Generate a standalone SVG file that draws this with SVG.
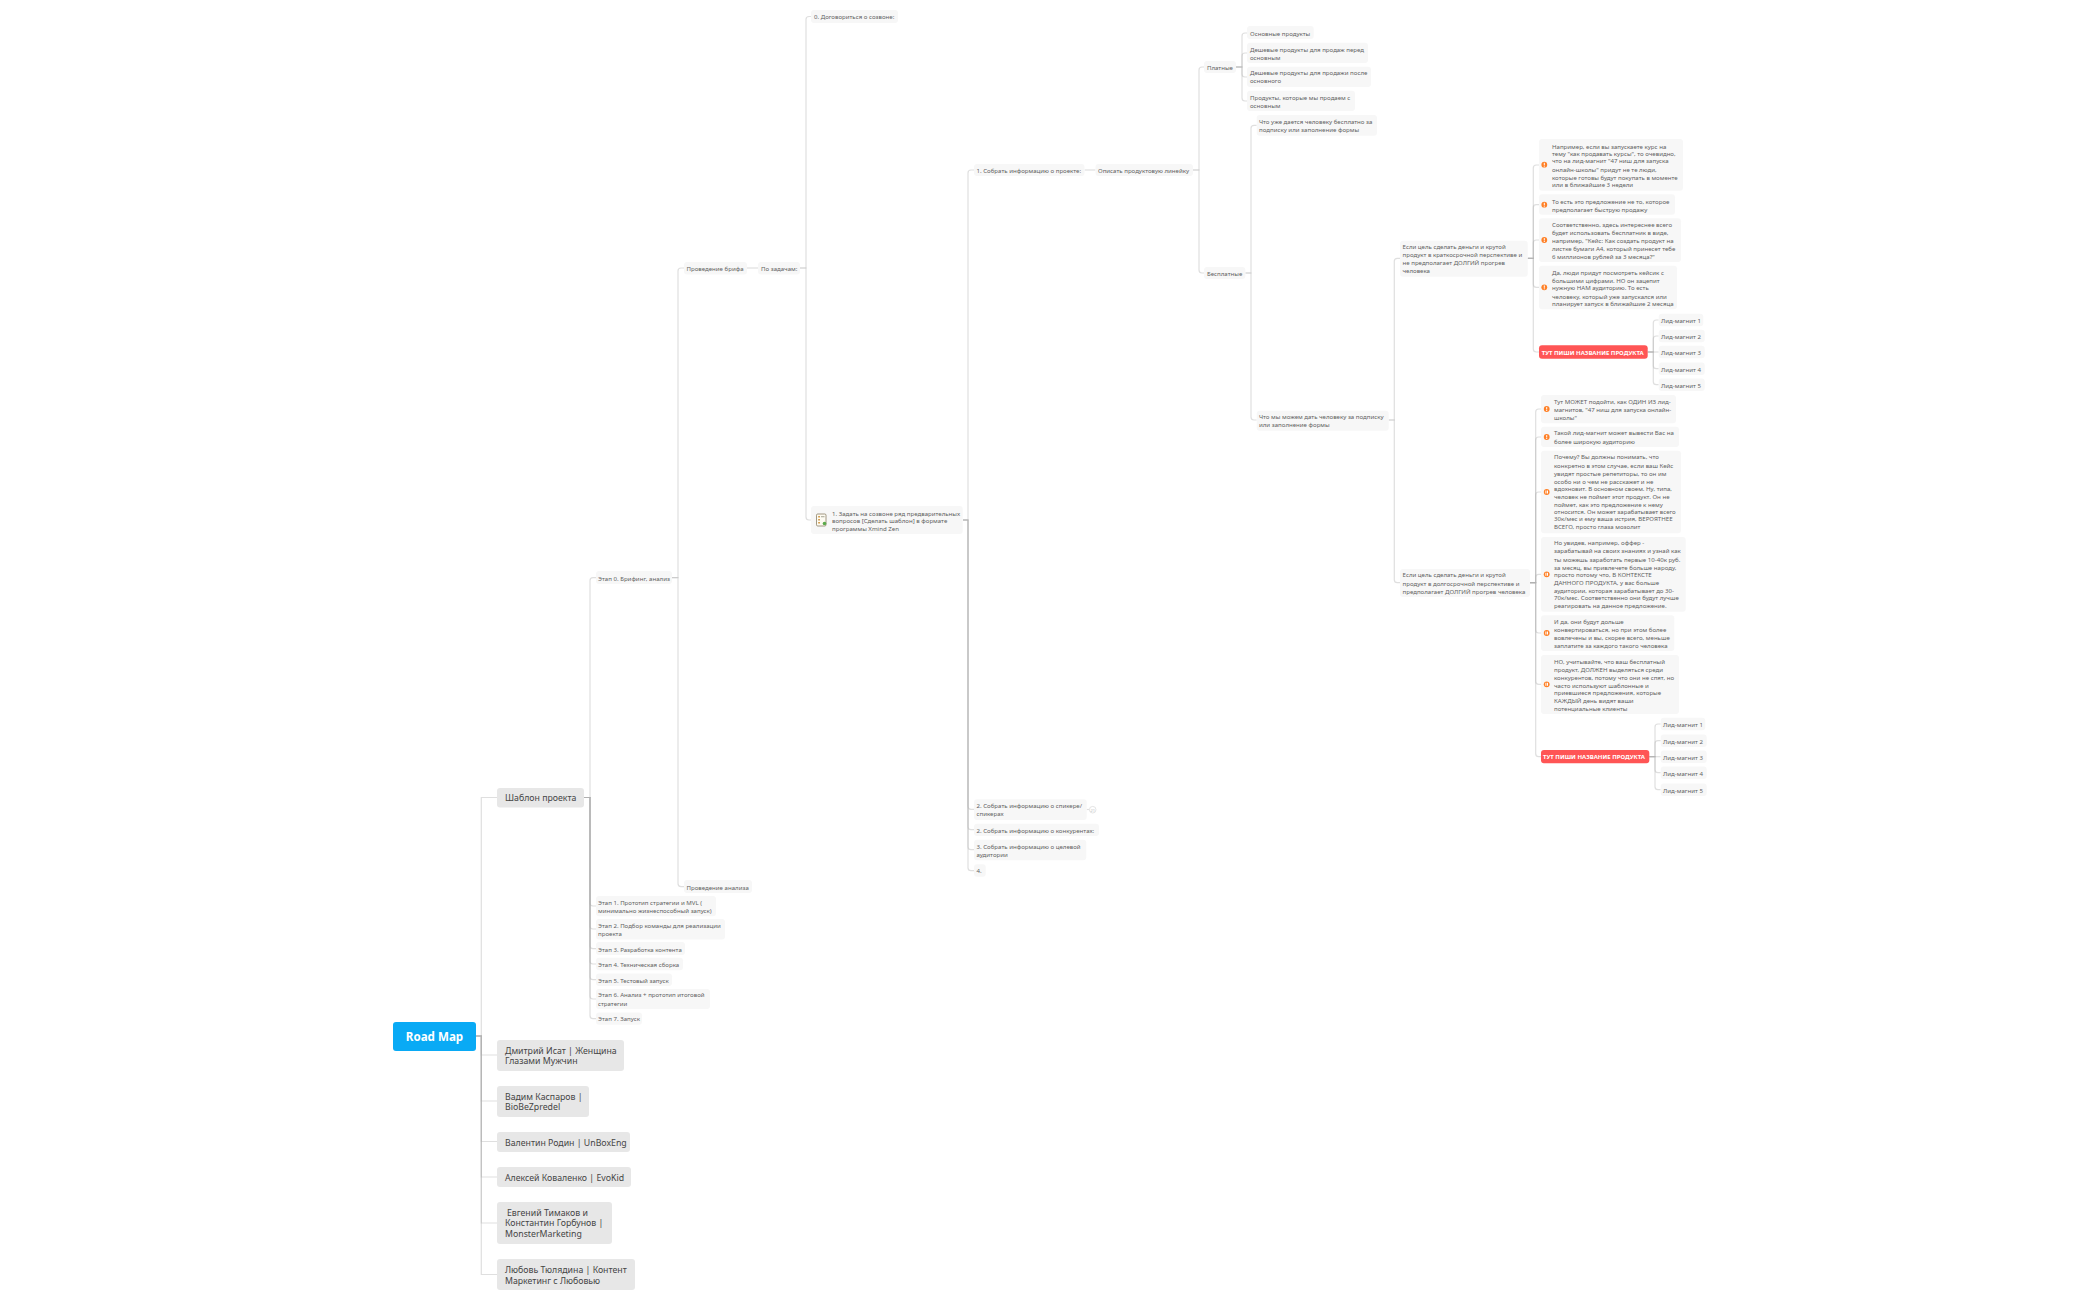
<svg xmlns="http://www.w3.org/2000/svg" width="2100" height="1300" viewBox="0 0 2100 1300">
<style>
text{font-family:"Noto Sans","Liberation Sans",sans-serif;transform:translateY(.6px)}
rect.b{fill:#f7f7f7}
rect.m{fill:#e7e7e7}
rect.red{fill:#ff5555}
.s{font-size:6.1px;fill:#5f5f5f}
.l{font-size:8.75px;fill:#454545}
.w{font-size:6px;fill:#fff;font-weight:700}
.root{font-size:11.6px;fill:#fff;font-weight:700;text-anchor:middle}
#connectors path{fill:none;stroke:#b0b0b0;stroke-opacity:.4;stroke-width:1.2}
</style>
<defs>
<g id="i1"><circle r="2.9" fill="#ff8027"/><rect x="-.5" y="-1.9" width="1" height="2.4" fill="#fff"/><rect x="-.5" y="1" width="1" height="1" fill="#fff"/></g>
<g id="i2"><circle r="2.9" fill="#ff8027"/><rect x="-1.3" y="-1.5" width="1" height="3" fill="#fff"/><rect x=".3" y="-1.5" width="1" height="3" fill="#fff"/></g>
</defs>
<rect width="2100" height="1300" fill="#fff"/>
<g id="connectors">
<path d="M476 1036H481.3V797.5H497"/><path d="M476 1036H481.3V1055H497"/><path d="M476 1036H481.3V1101H497"/><path d="M476 1036H481.3V1141.5H497"/><path d="M476 1036H481.3V1177H497"/><path d="M476 1036H481.3V1223H497"/><path d="M476 1036H481.3V1274.5H497"/>
<path d="M584 797.5H590V580.7Q590 577.7 593 577.7H596"/><path d="M584 797.5H590V903Q590 906 593 906H596"/><path d="M584 797.5H590V926Q590 929 593 929H596"/><path d="M584 797.5H590V945.7Q590 948.7 593 948.7H596"/><path d="M584 797.5H590V961Q590 964 593 964H596"/><path d="M584 797.5H590V976.7Q590 979.7 593 979.7H596"/><path d="M584 797.5H590V996Q590 999 593 999H596"/><path d="M584 797.5H590V1015.6Q590 1018.6 593 1018.6H596"/>
<path d="M672 577.7H678V271Q678 268 681 268H684"/><path d="M672 577.7H678V883.6Q678 886.6 681 886.6H684"/>
<path d="M747 268H758"/>
<path d="M800 268H806V19.5Q806 16.5 809 16.5H811"/><path d="M800 268H806V517Q806 520 809 520H811"/>
<path d="M963 520H968V173Q968 170 971 170H974"/><path d="M963 520H968V806.3Q968 809.3 971 809.3H974"/><path d="M963 520H968V826.7Q968 829.7 971 829.7H974"/><path d="M963 520H968V846.7Q968 849.7 971 849.7H974"/><path d="M963 520H968V867.7Q968 870.7 971 870.7H974"/>
<path d="M1084.5 170H1095.5"/>
<path d="M1193 170H1199V70Q1199 67 1202 67H1204"/><path d="M1193 170H1199V270Q1199 273 1202 273H1204"/>
<path d="M1236 67H1242V36Q1242 33 1245 33H1247"/><path d="M1236 67H1242V56Q1242 53 1245 53H1247"/><path d="M1236 67H1242V74Q1242 77 1245 77H1247"/><path d="M1236 67H1242V98Q1242 101 1245 101H1247"/>
<path d="M1245.4 273H1251V128.3Q1251 125.3 1254 125.3H1256.7"/><path d="M1245.4 273H1251V417Q1251 420 1254 420H1256.7"/>
<path d="M1388.7 420H1394.3V261.3Q1394.3 258.3 1397.3 258.3H1400"/><path d="M1388.7 420H1394.3V579.7Q1394.3 582.7 1397.3 582.7H1400"/>
<path d="M1527.7 258.3H1533.3V168Q1533.3 165 1536.3 165H1539"/><path d="M1527.7 258.3H1533.3V207.7Q1533.3 204.7 1536.3 204.7H1539"/><path d="M1527.7 258.3H1533.3V243Q1533.3 240 1536.3 240H1539"/><path d="M1527.7 258.3H1533.3V284.3Q1533.3 287.3 1536.3 287.3H1539"/><path d="M1527.7 258.3H1533.3V349Q1533.3 352 1536.3 352H1539"/>
<path d="M1647.7 352H1653.3V323Q1653.3 320 1656.3 320H1658.7"/><path d="M1647.7 352H1653.3V339Q1653.3 336 1656.3 336H1658.7"/><path d="M1647.7 352H1658.7"/><path d="M1647.7 352H1653.3V365.7Q1653.3 368.7 1656.3 368.7H1658.7"/><path d="M1647.7 352H1653.3V381.7Q1653.3 384.7 1656.3 384.7H1658.7"/>
<path d="M1530 582.7H1535.7V412Q1535.7 409 1538.7 409H1541"/><path d="M1530 582.7H1535.7V440Q1535.7 437 1538.7 437H1541"/><path d="M1530 582.7H1535.7V495Q1535.7 492 1538.7 492H1541"/><path d="M1530 582.7H1535.7V577.3Q1535.7 574.3 1538.7 574.3H1541"/><path d="M1530 582.7H1535.7V630Q1535.7 633 1538.7 633H1541"/><path d="M1530 582.7H1535.7V681.3Q1535.7 684.3 1538.7 684.3H1541"/><path d="M1530 582.7H1535.7V753.7Q1535.7 756.7 1538.7 756.7H1541"/>
<path d="M1649.3 756.7H1655V727Q1655 724 1658 724H1660.7"/><path d="M1649.3 756.7H1655V743.7Q1655 740.7 1658 740.7H1660.7"/><path d="M1649.3 756.7H1660.7"/><path d="M1649.3 756.7H1655V769.7Q1655 772.7 1658 772.7H1660.7"/><path d="M1649.3 756.7H1655V786.7Q1655 789.7 1658 789.7H1660.7"/>
<path d="M1086.7 809.5H1089"/>
</g>
<g id="root"><rect x="393" y="1022" width="83" height="29" rx="3" fill="#09aaf5"/><text class="root" x="434.5" y="1040.2">Road Map</text></g>
<g id="n-shablon"><rect class="m" x="497" y="788" width="87" height="19.5" rx="3"/><text class="l" x="505" y="800.5">Шаблон проекта</text></g>
<g id="n-dmitry"><rect class="m" x="497" y="1040" width="127" height="31" rx="3"/><text class="l"><tspan x="505" y="1053">Дмитрий Исат | Женщина</tspan><tspan x="505" y="1063.6">Глазами Мужчин</tspan></text></g>
<g id="n-vadim"><rect class="m" x="497" y="1086" width="92" height="31" rx="3"/><text class="l"><tspan x="505" y="1099">Вадим Каспаров |</tspan><tspan x="505" y="1109.6">BioBeZpredel</tspan></text></g>
<g id="n-valentin"><rect class="m" x="497" y="1132" width="133" height="20" rx="3"/><text class="l" x="505" y="1145">Валентин Родин | UnBoxEng</text></g>
<g id="n-alexey"><rect class="m" x="497" y="1167" width="134" height="20" rx="3"/><text class="l" x="505" y="1180">Алексей Коваленко | EvoKid</text></g>
<g id="n-evgeny"><rect class="m" x="497" y="1202" width="115" height="42" rx="3"/><text class="l"><tspan x="507" y="1215">Евгений Тимаков и</tspan><tspan x="505" y="1225.5">Константин Горбунов |</tspan><tspan x="505" y="1236.5">MonsterMarketing</tspan></text></g>
<g id="n-lyubov"><rect class="m" x="497" y="1259" width="138" height="31" rx="3"/><text class="l"><tspan x="505" y="1272">Любовь Тюлядина | Контент</tspan><tspan x="505" y="1283">Маркетинг с Любовью</tspan></text></g>
<g id="n-etap0"><rect class="b" x="596" y="571" width="76" height="13" rx="3"/><text class="s" x="598" y="580">Этап 0. Брифинг, анализ</text></g>
<g id="n-etap1"><rect class="b" x="596" y="896" width="120" height="20.3" rx="3"/><text class="s"><tspan x="598" y="904.3">Этап 1. Прототип стратегии и MVL (</tspan><tspan x="598" y="912.3">минимально жизнеспособный запуск)</tspan></text></g>
<g id="n-etap2"><rect class="b" x="596" y="919" width="129" height="20.4" rx="3"/><text class="s"><tspan x="598" y="927.9">Этап 2. Подбор команды для реализации</tspan><tspan x="598" y="935.3">проекта</tspan></text></g>
<g id="n-etap3"><rect class="b" x="596" y="942" width="89" height="13" rx="3"/><text class="s" x="598" y="951">Этап 3. Разработка контента</text></g>
<g id="n-etap4"><rect class="b" x="596" y="957.7" width="87" height="12.5" rx="3"/><text class="s" x="598" y="966.3">Этап 4. Техническая сборка</text></g>
<g id="n-etap5"><rect class="b" x="596" y="973.5" width="76" height="12.5" rx="3"/><text class="s" x="598" y="982">Этап 5. Тестовый запуск</text></g>
<g id="n-etap6"><rect class="b" x="596" y="989" width="114" height="20" rx="3"/><text class="s"><tspan x="598" y="996.8">Этап 6. Анализ + прототип итоговой</tspan><tspan x="598" y="1005.1">стратегии</tspan></text></g>
<g id="n-etap7"><rect class="b" x="596" y="1012.4" width="46" height="12.4" rx="3"/><text class="s" x="598" y="1020.9">Этап 7. Запуск</text></g>
<g id="n-analiz"><rect class="b" x="684" y="880" width="68" height="13" rx="3"/><text class="s" x="686.5" y="889">Проведение анализа</text></g>
<g id="n-brif"><rect class="b" x="684" y="262" width="63" height="12.5" rx="3"/><text class="s" x="686.5" y="270.4">Проведение брифа</text></g>
<g id="n-zadachi"><rect class="b" x="758" y="262" width="42" height="12.5" rx="3"/><text class="s" x="761" y="270.4">По задачам:</text></g>
<g id="n-0"><rect class="b" x="811" y="10" width="87" height="13" rx="3"/><text class="s" x="814" y="18.8">0. Договориться о созвоне:</text></g>
<g id="n-1a"><rect class="b" x="811" y="506" width="151.7" height="28" rx="3"/><rect x="816.5" y="514" width="9.5" height="12" rx="1.2" fill="#fdfbf2" stroke="#8a7f66" stroke-width=".8"/><rect x="818.3" y="516" width="1.5" height="1.5" fill="#c9882b"/><rect x="818.3" y="519" width="1.5" height="1.5" fill="#c9882b"/><rect x="818.3" y="522" width="1.5" height="1.5" fill="#c9882b"/><rect x="821" y="516.3" width="3.5" height=".9" fill="#998"/><circle cx="824.5" cy="523.5" r="1.8" fill="#5aa94a"/><text class="s"><tspan x="832" y="515.3">1. Задать на созвоне ряд предварительных</tspan><tspan x="832" y="522.5">вопросов [Сделать шаблон] в формате</tspan><tspan x="832" y="530.3">программы Xmind Zen</tspan></text></g>
<g id="n-1b"><rect class="b" x="974" y="164" width="110.5" height="12" rx="3"/><text class="s" x="976.5" y="172.3">1. Собрать информацию о проекте:</text></g>
<g id="n-line"><rect class="b" x="1095.5" y="164" width="97.5" height="12" rx="3"/><text class="s" x="1098" y="172.3">Описать продуктовую линейку</text></g>
<g id="n-paid"><rect class="b" x="1204" y="61" width="32" height="12" rx="3"/><text class="s" x="1207" y="69.3">Платные</text></g>
<g id="n-free"><rect class="b" x="1204" y="267" width="41.4" height="12" rx="3"/><text class="s" x="1207" y="275.3">Бесплатные</text></g>
<g id="n-p1"><rect class="b" x="1247" y="26" width="66.7" height="13" rx="3"/><text class="s" x="1250" y="35">Основные продукты</text></g>
<g id="n-p2"><rect class="b" x="1247" y="42.7" width="121" height="20.3" rx="3"/><text class="s"><tspan x="1250" y="51.2">Дешевые продукты для продаж перед</tspan><tspan x="1250" y="59.2">основным</tspan></text></g>
<g id="n-p3"><rect class="b" x="1247" y="66.7" width="124" height="20.3" rx="3"/><text class="s"><tspan x="1250" y="74.9">Дешевые продукты для продажи после</tspan><tspan x="1250" y="82.9">основного</tspan></text></g>
<g id="n-p4"><rect class="b" x="1247" y="90.7" width="108" height="20.3" rx="3"/><text class="s"><tspan x="1250" y="99.9">Продукты, которые мы продаем с</tspan><tspan x="1250" y="107.2">основным</tspan></text></g>
<g id="n-f1"><rect class="b" x="1256.7" y="115" width="120.3" height="20.7" rx="3"/><text class="s"><tspan x="1259" y="123.9">Что уже дается человеку бесплатно за</tspan><tspan x="1259" y="131.2">подписку или заполнение формы</tspan></text></g>
<g id="n-f2"><rect class="b" x="1256.7" y="410.7" width="132" height="20" rx="3"/><text class="s"><tspan x="1259" y="418.9">Что мы можем дать человеку за подписку</tspan><tspan x="1259" y="426.9">или заполнение формы</tspan></text></g>
<g id="n-g1"><rect class="b" x="1400" y="240.7" width="127.7" height="36" rx="3"/><text class="s"><tspan x="1402.5" y="248.9">Если цель сделать деньги и крутой</tspan><tspan x="1402.5" y="256.9">продукт в краткосрочной перспективе и</tspan><tspan x="1402.5" y="264.5">не предполагает ДОЛГИЙ прогрев</tspan><tspan x="1402.5" y="272.2">человека</tspan></text></g>
<g id="n-g2"><rect class="b" x="1400" y="569" width="130" height="28" rx="3"/><text class="s"><tspan x="1402.5" y="576.9">Если цель сделать деньги и крутой</tspan><tspan x="1402.5" y="585.2">продукт в долгосрочной перспективе и</tspan><tspan x="1402.5" y="593.2">предполагает ДОЛГИЙ прогрев человека</tspan></text></g>
<g id="n-a1"><rect class="b" x="1539" y="139" width="144" height="51.7" rx="3"/><use href="#i1" x="1544.3" y="164.7"/><text class="s"><tspan x="1552" y="148.2">Например, если вы запускаете курс на</tspan><tspan x="1552" y="155.5">тему "как продавать курсы", то очевидно,</tspan><tspan x="1552" y="162.9">что на лид-магнит "47 ниш для запуска</tspan><tspan x="1552" y="171.2">онлайн-школы" придут не те люди,</tspan><tspan x="1552" y="179.2">которые готовы будут покупать в моменте</tspan><tspan x="1552" y="186.2">или в ближайшие 3 недели</tspan></text></g>
<g id="n-a2"><rect class="b" x="1539" y="194.3" width="136" height="20.4" rx="3"/><use href="#i1" x="1544.3" y="204.7"/><text class="s"><tspan x="1552" y="203.2">То есть это предложение не то, которое</tspan><tspan x="1552" y="211.2">предполагает быструю продажу</tspan></text></g>
<g id="n-a3"><rect class="b" x="1539" y="218.3" width="142" height="43.7" rx="3"/><use href="#i1" x="1544.3" y="240"/><text class="s"><tspan x="1552" y="226.9">Соответственно, здесь интереснее всего</tspan><tspan x="1552" y="234.9">будет использовать бесплатник в виде,</tspan><tspan x="1552" y="242.2">например, "Кейс: Как создать продукт на</tspan><tspan x="1552" y="250.2">листке бумаги А4, который принесет тебе</tspan><tspan x="1552" y="258.2">6 миллионов рублей за 3 месяца?"</tspan></text></g>
<g id="n-a4"><rect class="b" x="1539" y="265.7" width="138" height="43.6" rx="3"/><use href="#i1" x="1544.3" y="287.3"/><text class="s"><tspan x="1552" y="274.2">Да, люди придут посмотреть кейсик с</tspan><tspan x="1552" y="282.2">большими цифрами. НО он зацепит</tspan><tspan x="1552" y="289.9">нужную НАМ аудиторию. То есть</tspan><tspan x="1552" y="298.2">человеку, который уже запускался или</tspan><tspan x="1552" y="305.2">планирует запуск в ближайшие 2 месяца</tspan></text></g>
<g id="n-t1"><rect class="red" x="1539" y="345.3" width="108.7" height="13.4" rx="3"/><text class="w" x="1541.7" y="354">ТУТ ПИШИ НАЗВАНИЕ ПРОДУКТА</text></g>
<g id="n-l11"><rect class="b" x="1658.7" y="313.7" width="44.6" height="12.6" rx="3"/><text class="s" x="1661" y="322.3">Лид-магнит 1</text></g>
<g id="n-l12"><rect class="b" x="1658.7" y="329.7" width="46" height="12.6" rx="3"/><text class="s" x="1661" y="338.3">Лид-магнит 2</text></g>
<g id="n-l13"><rect class="b" x="1658.7" y="345.7" width="46" height="12.6" rx="3"/><text class="s" x="1661" y="354.3">Лид-магнит 3</text></g>
<g id="n-l14"><rect class="b" x="1658.7" y="362.4" width="46" height="12.6" rx="3"/><text class="s" x="1661" y="371">Лид-магнит 4</text></g>
<g id="n-l15"><rect class="b" x="1658.7" y="378.4" width="46" height="12.6" rx="3"/><text class="s" x="1661" y="387">Лид-магнит 5</text></g>
<g id="n-b1"><rect class="b" x="1541" y="395" width="135" height="28.3" rx="3"/><use href="#i1" x="1546.7" y="409"/><text class="s"><tspan x="1554" y="403.2">Тут МОЖЕТ подойти, как ОДИН ИЗ лид-</tspan><tspan x="1554" y="411.2">магнитов, "47 ниш для запуска онлайн-</tspan><tspan x="1554" y="419.2">школы"</tspan></text></g>
<g id="n-b2"><rect class="b" x="1541" y="426.7" width="138" height="20.3" rx="3"/><use href="#i1" x="1546.7" y="437"/><text class="s"><tspan x="1554" y="434.9">Такой лид-магнит может вывести Вас на</tspan><tspan x="1554" y="443.2">более широкую аудиторию</tspan></text></g>
<g id="n-b3"><rect class="b" x="1541" y="450.7" width="140" height="82.6" rx="3"/><use href="#i2" x="1546.7" y="492"/><text class="s"><tspan x="1554" y="458.9">Почему? Вы должны понимать, что</tspan><tspan x="1554" y="467.2">конкретно в этом случае, если ваш Кейс</tspan><tspan x="1554" y="475.2">увидят простые репетиторы, то он им</tspan><tspan x="1554" y="483.2">особо ни о чем не расскажет и не</tspan><tspan x="1554" y="490.2">вдохновит. В основном своем. Ну, типа,</tspan><tspan x="1554" y="498.2">человек не поймет этот продукт. Он не</tspan><tspan x="1554" y="506.2">поймет, как это предложение к нему</tspan><tspan x="1554" y="513.9">относится. Он может зарабатывает всего</tspan><tspan x="1554" y="520.9">30к/мес и ему ваша истрия, ВЕРОЯТНЕЕ</tspan><tspan x="1554" y="528.9">ВСЕГО, просто глаза мозолит</tspan></text></g>
<g id="n-b4"><rect class="b" x="1541" y="537" width="144.7" height="74.7" rx="3"/><use href="#i2" x="1546.7" y="574.3"/><text class="s"><tspan x="1554" y="544.9">Но увидев, например, оффер -</tspan><tspan x="1554" y="552.9">зарабатывай на своих знаниях и узнай как</tspan><tspan x="1554" y="561.2">ты можешь заработать первые 10-40к руб.</tspan><tspan x="1554" y="569.2">за месяц, вы привлечете больше народу,</tspan><tspan x="1554" y="576.2">просто потому что, В КОНТЕКСТЕ</tspan><tspan x="1554" y="584.2">ДАННОГО ПРОДУКТА, у вас больше</tspan><tspan x="1554" y="592.2">аудитории, которая зарабатывает до 30-</tspan><tspan x="1554" y="599.9">70к/мес. Соответственно они будут лучше</tspan><tspan x="1554" y="607.5">реагировать на данное предложение.</tspan></text></g>
<g id="n-b5"><rect class="b" x="1541" y="615.3" width="133.3" height="35.7" rx="3"/><use href="#i2" x="1546.7" y="633"/><text class="s"><tspan x="1554" y="623.9">И да, они будут дольше</tspan><tspan x="1554" y="631.2">конвертироваться, но при этом более</tspan><tspan x="1554" y="639.2">вовлечены и вы, скорее всего, меньше</tspan><tspan x="1554" y="647.2">заплатите за каждого такого человека</tspan></text></g>
<g id="n-b6"><rect class="b" x="1541" y="655" width="138" height="59" rx="3"/><use href="#i2" x="1546.7" y="684.3"/><text class="s"><tspan x="1554" y="663.2">НО, учитывайте, что ваш бесплатный</tspan><tspan x="1554" y="671.2">продукт, ДОЛЖЕН выделяться среди</tspan><tspan x="1554" y="679.2">конкурентов, потому что они не спят, но</tspan><tspan x="1554" y="687.2">часто используют шаблонные и</tspan><tspan x="1554" y="694.2">приевшиеся предложения, которые</tspan><tspan x="1554" y="702.2">КАЖДЫЙ день видят ваши</tspan><tspan x="1554" y="710.5">потенциальные клиенты</tspan></text></g>
<g id="n-t2"><rect class="red" x="1541" y="750" width="108.3" height="13.3" rx="3"/><text class="w" x="1543" y="758.7">ТУТ ПИШИ НАЗВАНИЕ ПРОДУКТА</text></g>
<g id="n-l21"><rect class="b" x="1660.7" y="717.7" width="44.6" height="12.6" rx="3"/><text class="s" x="1663" y="726.3">Лид-магнит 1</text></g>
<g id="n-l22"><rect class="b" x="1660.7" y="734.4" width="46" height="12.6" rx="3"/><text class="s" x="1663" y="743">Лид-магнит 2</text></g>
<g id="n-l23"><rect class="b" x="1660.7" y="750.4" width="46" height="12.6" rx="3"/><text class="s" x="1663" y="759">Лид-магнит 3</text></g>
<g id="n-l24"><rect class="b" x="1660.7" y="766.4" width="46" height="12.6" rx="3"/><text class="s" x="1663" y="775">Лид-магнит 4</text></g>
<g id="n-l25"><rect class="b" x="1660.7" y="783.4" width="46" height="12.6" rx="3"/><text class="s" x="1663" y="792">Лид-магнит 5</text></g>
<g id="n-2a"><rect class="b" x="974" y="799.3" width="112.7" height="20.7" rx="3"/><text class="s"><tspan x="976.5" y="807.9">2. Собрать информацию о спикере/</tspan><tspan x="976.5" y="815.9">спикерах</tspan></text><circle cx="1092.7" cy="809.7" r="3.3" fill="#fff" stroke="#d8d8d8" stroke-width=".7"/><text x="1092.7" y="811" text-anchor="middle" style="font-size:4px;fill:#bbb">21</text></g>
<g id="n-2b"><rect class="b" x="974" y="823.7" width="125" height="12.3" rx="3"/><text class="s" x="976.5" y="832">2. Собрать информацию о конкурентах:</text></g>
<g id="n-3"><rect class="b" x="974" y="839.7" width="112.3" height="20.6" rx="3"/><text class="s"><tspan x="976.5" y="848.2">3. Собрать информацию о целевой</tspan><tspan x="976.5" y="856.2">аудитории</tspan></text></g>
<g id="n-4"><rect class="b" x="974" y="864.3" width="11.7" height="12.4" rx="3"/><text class="s" x="976.5" y="872.9">4.</text></g>
</svg>
